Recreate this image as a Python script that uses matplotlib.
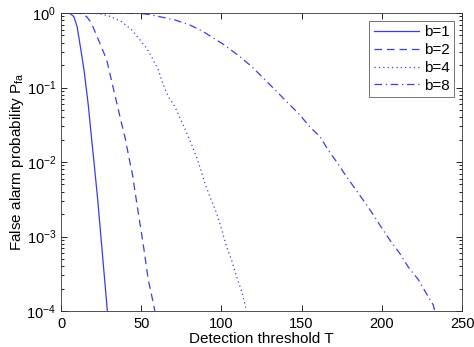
import numpy as np
import matplotlib
matplotlib.use('Agg')
import matplotlib.pyplot as plt
from matplotlib.ticker import LogLocator, NullFormatter

plt.rcParams['font.family'] = ['Liberation Sans', 'DejaVu Sans']
plt.rcParams['font.size'] = 10

# threshold T and log10(P_fa) for each b
t_b1 = [0, 4, 6, 8, 10, 11.2, 12.8, 14.5, 17, 18.7, 20.8, 22.9, 26, 28.9]
logp_b1 = [0, -0.001, -0.01, -0.05, -0.18, -0.336, -0.55, -0.79, -1.235, -1.61, -2.05, -2.51, -3.28, -4.0]

t_b2 = [0, 10, 13, 16, 18.5, 20.8, 24.5, 28.5, 32.6, 34.7, 37.4, 39.9, 42, 44.5, 46.1, 47.8, 51.3, 54.4, 57.5, 58.5]
logp_b2 = [0, -0.001, -0.01, -0.05, -0.12, -0.23, -0.42, -0.63, -1.01, -1.2, -1.45, -1.67, -1.9, -2.16, -2.39, -2.63, -3.11, -3.58, -3.89, -4.0]

t_b4 = [0, 20, 24, 29.5, 37.8, 44.1, 49.3, 53.4, 56.5, 60.7, 63.8, 66.9, 71.1, 74.2, 78.4, 81.5, 85.6,
        89.8, 92.9, 97.1, 100.2, 103.3, 106.4, 109.5, 112.7, 114.7, 115.5]
logp_b4 = [0, -0.002, -0.01, -0.036, -0.117, -0.228, -0.362, -0.474, -0.587, -0.765, -0.966, -1.12, -1.26, -1.41, -1.61, -1.77, -2.0,
           -2.29, -2.47, -2.69, -2.91, -3.14, -3.32, -3.54, -3.74, -3.92, -4.0]

t_b8 = [0, 40, 50, 55, 61.7, 71.1, 80.4, 88.7, 101.2, 111.6, 118.9, 124.1, 133.4, 140.7, 149, 155.2, 161.5, 166.6,
        171.9, 178.1, 185.4, 192.6, 198.9, 205.1, 211.3, 216.5, 222.8, 229, 232.1, 233]
logp_b8 = [0, -0.002, -0.008, -0.02, -0.05, -0.094, -0.161, -0.25, -0.42, -0.587, -0.72, -0.83, -1.03, -1.19, -1.37, -1.53, -1.66, -1.84,
           -2.0, -2.2, -2.42, -2.64, -2.85, -3.05, -3.23, -3.41, -3.58, -3.81, -3.92, -4.0]

series = [
    ('b=1', t_b1, logp_b1, '-'),
    ('b=2', t_b2, logp_b2, (0, (6, 4))),
    ('b=4', t_b4, logp_b4, (0, (1, 2.5))),
    ('b=8', t_b8, logp_b8, (0, (6, 3, 1, 3))),
]

fig = plt.figure(figsize=(4.74, 3.47), dpi=100)
ax = fig.add_axes([0.1287, 0.1037, 0.846, 0.8588])

for name, t, lp, ls in series:
    ax.plot(t, 10 ** np.array(lp), color='#3c3ce6', linestyle=ls, linewidth=0.9, label=name)

ax.set_yscale('log')
ax.set_xlim(0, 250)
ax.set_ylim(1e-4, 1)
ax.set_xticks([0, 50, 100, 150, 200, 250])
ax.yaxis.set_major_locator(LogLocator(base=10, numticks=10))
ax.yaxis.set_minor_locator(LogLocator(base=10, subs=np.arange(2, 10), numticks=10))
ax.yaxis.set_minor_formatter(NullFormatter())
ax.tick_params(which='both', direction='in', top=True, right=True, width=0.6, labelsize=10.5)
ax.tick_params(axis='x', pad=4)
ax.tick_params(which='major', length=4)
ax.tick_params(which='minor', length=2)
for s in ax.spines.values():
    s.set_linewidth(0.6)
    s.set_color('#333333')

ax.set_xlabel('Detection threshold T', labelpad=1, fontsize=11)
ax.set_ylabel(r'False alarm probability $\mathregular{P_{fa}}$', labelpad=0, fontsize=11)

leg = ax.legend(loc='upper right', fancybox=False, frameon=True, edgecolor='#333333', fontsize=11,
                borderaxespad=0.5, handlelength=3.0, labelspacing=0.25, borderpad=0.3, handletextpad=0.3)
leg.get_frame().set_linewidth(0.6)

fig.savefig('out.png', dpi=100)
